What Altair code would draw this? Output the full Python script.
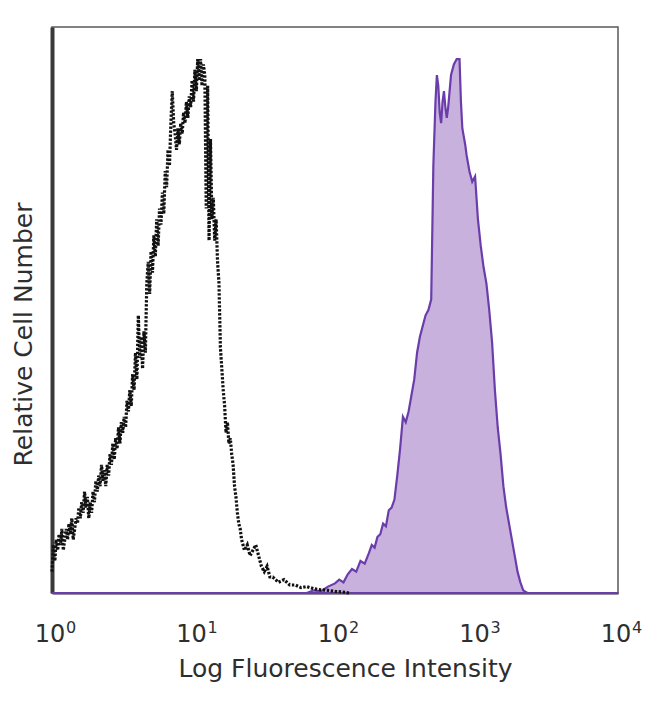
import altair as alt
import pandas as pd

# ---- data (x in log10 units of fluorescence intensity, y = relative cell count) ----
black_log = [0.00, 0.01, 0.02, 0.03, 0.04, 0.05, 0.06, 0.07, 0.08, 0.09,
             0.10, 0.11, 0.12, 0.13, 0.14, 0.15, 0.16, 0.17, 0.18, 0.19,
             0.20, 0.21, 0.22, 0.23, 0.24, 0.25, 0.26, 0.27, 0.28, 0.29,
             0.30, 0.31, 0.32, 0.33, 0.34, 0.35, 0.36, 0.37, 0.38, 0.39,
             0.40, 0.41, 0.42, 0.43, 0.44, 0.45, 0.46, 0.47, 0.48, 0.49,
             0.50, 0.51, 0.52, 0.53, 0.54, 0.55, 0.56, 0.57, 0.58, 0.59,
             0.60, 0.61, 0.62, 0.63, 0.64, 0.65, 0.66, 0.67, 0.68, 0.69,
             0.70, 0.71, 0.72, 0.73, 0.74, 0.75, 0.76, 0.77, 0.78, 0.79,
             0.80, 0.81, 0.82, 0.83, 0.84, 0.85, 0.86, 0.87, 0.88, 0.89,
             0.90, 0.91, 0.92, 0.93, 0.94, 0.95, 0.96, 0.97, 0.98, 0.99,
             1.00, 1.01, 1.02, 1.03, 1.04, 1.05, 1.06, 1.07, 1.08, 1.09,
             1.10, 1.11, 1.12, 1.13, 1.14, 1.15, 1.16, 1.17, 1.18, 1.19,
             1.20, 1.21, 1.22, 1.23, 1.24, 1.25, 1.26, 1.27, 1.28, 1.29,
             1.30, 1.31, 1.32, 1.33, 1.34, 1.35, 1.36, 1.38, 1.40, 1.42,
             1.44, 1.46, 1.48, 1.50, 1.52, 1.54, 1.56, 1.58, 1.60, 1.64,
             1.68, 1.72, 1.76, 1.80, 1.85, 1.90, 1.95, 2.00, 2.05, 2.10]
black_count = [4, 9, 6, 10, 8, 11, 9, 12, 8, 10,
               12, 10, 13, 11, 14, 10, 12, 14, 13, 16,
               14, 17, 15, 19, 16, 18, 14, 17, 15, 19,
               17, 21, 19, 22, 20, 24, 21, 23, 20, 24,
               22, 26, 24, 28, 25, 29, 27, 31, 28, 32,
               30, 33, 31, 36, 34, 38, 35, 41, 38, 45,
               40, 52, 44, 48, 42, 49, 45, 58, 62, 56,
               64, 60, 67, 63, 70, 65, 72, 69, 75, 71,
               79, 76, 83, 80, 88, 94, 88, 86, 83, 87,
               84, 88, 86, 90, 88, 92, 89, 93, 91, 96,
               92, 98, 94, 100, 96, 100, 95, 99, 97, 72,
               95, 66, 85, 70, 74, 66, 70, 62, 58, 46,
               42, 38, 35, 30, 32, 28, 29, 26, 24, 20,
               18, 15, 13, 12, 10, 9, 8, 9, 7, 8,
               9, 7, 5, 4, 5, 3, 3, 2.5, 2, 2.5,
               1.5, 1.5, 1, 1.2, 0.8, 0.6, 0.5, 0.3, 0.2, 0]

purple_log = [0.00, 1.80, 1.85, 1.90, 1.95, 2.00, 2.03, 2.06, 2.09, 2.12,
              2.15, 2.18, 2.21, 2.24, 2.26, 2.28, 2.30, 2.32, 2.34, 2.36,
              2.38, 2.40, 2.42, 2.44, 2.46, 2.48, 2.50, 2.52, 2.54, 2.56,
              2.58, 2.60, 2.62, 2.64, 2.66, 2.68, 2.695, 2.71, 2.72, 2.73,
              2.74, 2.75, 2.76, 2.77, 2.78, 2.79, 2.80, 2.81, 2.82, 2.84,
              2.86, 2.88, 2.89, 2.90, 2.92, 2.93, 2.95, 2.97, 2.99, 3.01,
              3.03, 3.05, 3.07, 3.09, 3.11, 3.13, 3.15, 3.17, 3.19, 3.21,
              3.23, 3.25, 3.27, 3.29, 3.31, 3.33, 3.36, 4.00]
purple_count = [0, 0, 0.5, 0.3, 1.2, 1.8, 2.5, 2.0, 3.5, 4.5,
                4.0, 6.0, 5.5, 7.5, 9, 8.5, 10.5, 11, 13, 12.5,
                15.5, 16, 17.5, 22, 27, 33, 32, 34, 37, 40,
                45, 48, 50, 52, 53, 55, 80, 92, 97, 95,
                90, 88, 92, 94, 91, 89, 91, 94, 97, 99,
                100, 100, 92, 87, 84, 82, 79, 77, 78, 70,
                65, 61, 58, 53, 47, 38, 31, 26, 20, 16,
                13, 10, 7, 4, 2, 0.5, 0, 0]

tick_decades = [0, 1, 2, 3, 4]
tick_base = ["10", "10", "10", "10", "10"]
tick_exponents = ["0", "1", "2", "3", "4"]

FONT = "DejaVu Sans"
TEXT = "#2e2e2e"

black_df = pd.DataFrame({"log": black_log, "count": black_count})
purple_df = pd.DataFrame({"log": purple_log, "count": purple_count})
ticks_df = pd.DataFrame({"log": tick_decades, "base": tick_base, "exp": tick_exponents})

x_enc = alt.X(
    "log:Q",
    scale=alt.Scale(domain=[0, 4], nice=False, zero=False),
    axis=alt.Axis(
        title="Log Fluorescence Intensity", labels=False, ticks=False, grid=False,
        domainColor="#2a2340", domainWidth=2,
        titleFont=FONT, titleFontSize=25, titleFontWeight="normal", titleColor=TEXT,
        titleX=293, titleY=83, titleAlign="center", titleBaseline="alphabetic",
    ),
)
y_enc = alt.Y(
    "count:Q",
    scale=alt.Scale(domain=[0, 106], nice=False),
    axis=alt.Axis(
        title="Relative Cell Number", labels=False, ticks=False, grid=False,
        domainColor="#3a3a3a", domainWidth=4,
        titleFont=FONT, titleFontSize=25, titleFontWeight="normal", titleColor=TEXT,
        titleAngle=270, titleX=-21, titleY=307, titleAlign="center",
        titleBaseline="alphabetic",
    ),
)

purple = alt.Chart(purple_df).mark_area(
    fill="#C8B2DD", stroke="#6A3DAA", strokeWidth=2.2, interpolate="linear"
).encode(x=x_enc, y=y_enc)

black = alt.Chart(black_df).mark_line(
    color="#111111", strokeWidth=3.2, strokeDash=[2.4, 1.6], interpolate="linear"
).encode(x=x_enc, y=y_enc)

base_labels = alt.Chart(ticks_df).mark_text(
    font=FONT, fontSize=24, color=TEXT, align="center", baseline="alphabetic", dx=-2
).encode(x=alt.X("log:Q"), y=alt.value(615), text="base:N")

exp_labels = alt.Chart(ticks_df).mark_text(
    font=FONT, fontSize=16, color=TEXT, align="left", baseline="alphabetic", dx=14
).encode(x=alt.X("log:Q"), y=alt.value(606), text="exp:N")

chart = alt.layer(purple, black, base_labels, exp_labels).properties(
    width=566,
    height=566,
    autosize=alt.AutoSizeParams(type="none"),
    padding={"left": 44, "top": 19, "right": 24, "bottom": 100},
    background="white",
).configure_view(stroke="#5a5a5a", strokeWidth=1.5)

chart.save("out.html", embed_options={"renderer": "svg", "actions": False})
